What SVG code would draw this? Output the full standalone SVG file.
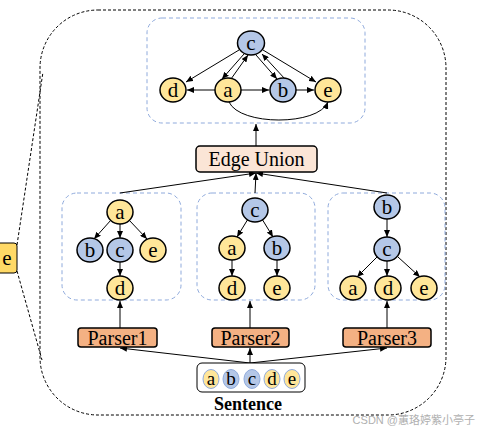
<svg xmlns="http://www.w3.org/2000/svg" width="489" height="434" viewBox="0 0 489 434">
<defs>
<marker id="ah" markerUnits="userSpaceOnUse" markerWidth="7" markerHeight="6" refX="7" refY="3" orient="auto">
<path d="M0,0 L7,3 L0,6 z" fill="#000"/>
</marker>
<style>
.y{fill:#FFE699;stroke:#000;stroke-width:1.5}
.b{fill:#B4C7E7;stroke:#000;stroke-width:1.5}
.t{font-family:'Liberation Serif','Times New Roman','DejaVu Serif',serif;font-size:21px;text-anchor:middle;fill:#000}
.e{stroke:#000;stroke-width:1;fill:none;marker-end:url(#ah)}
.grp{fill:none;stroke:#8FAADC;stroke-width:1;stroke-dasharray:4,3}
.par{fill:#F4B183;stroke:#000;stroke-width:1.5}
.pt{font-family:'Liberation Serif','Times New Roman','DejaVu Serif',serif;font-size:20px;text-anchor:middle;fill:#000}
.sy{fill:#FFE699;stroke:#8FAADC;stroke-width:1}
.sb{fill:#B4C7E7;stroke:#8FAADC;stroke-width:1}
.st{font-family:'Liberation Serif','Times New Roman','DejaVu Serif',serif;font-size:19px;text-anchor:middle;fill:#000}
</style>
</defs>
<rect width="489" height="434" fill="#fff"/>

<!-- outer dashed region -->
<rect x="40" y="10" width="406" height="405" rx="58" fill="none" stroke="#000" stroke-width="1" stroke-dasharray="3,2"/>
<path d="M17,245 L43,72 M17,271 L42,360" fill="none" stroke="#000" stroke-width="1" stroke-dasharray="3,2"/>
<g id="left-e">
<rect x="-6" y="243" width="23" height="30" rx="3" fill="#FFD966" stroke="#000" stroke-width="1"/>
<text class="t" x="7" y="265">e</text>
</g>

<!-- group boxes -->
<rect class="grp" x="147" y="18" width="218" height="105" rx="15"/>
<rect class="grp" x="62" y="193" width="119" height="107" rx="15"/>
<rect class="grp" x="197" y="193" width="118" height="107" rx="15"/>
<rect class="grp" x="328" y="193" width="117" height="107" rx="15"/>

<g id="connectors">
<line class="e" x1="239" y1="50" x2="186" y2="82"/>
<line class="e" x1="263" y1="50" x2="316" y2="82"/>
<line class="e" x1="215" y1="90" x2="187" y2="90"/>
<line class="e" x1="241" y1="90" x2="269" y2="90"/>
<line class="e" x1="296" y1="90" x2="314" y2="90"/>
<line class="e" x1="244" y1="54" x2="222" y2="79"/>
<line class="e" x1="231" y1="79" x2="248" y2="55"/>
<line class="e" x1="256" y1="55" x2="277" y2="79"/>
<line class="e" x1="285" y1="79" x2="262" y2="54"/>
<path class="e" d="M229,102 C240,126 318,126 328,102"/>
<line class="e" x1="256" y1="146" x2="256" y2="124"/>
<line class="e" x1="120" y1="193" x2="256" y2="173"/>
<line class="e" x1="255" y1="193" x2="256" y2="173"/>
<line class="e" x1="387" y1="193" x2="256" y2="173"/>
<line class="e" x1="111" y1="220" x2="94" y2="239"/>
<line class="e" x1="120" y1="224" x2="120" y2="238"/>
<line class="e" x1="129" y1="220" x2="147" y2="239"/>
<line class="e" x1="120" y1="262" x2="120" y2="276"/>
<line class="e" x1="248" y1="219" x2="237" y2="237"/>
<line class="e" x1="262" y1="219" x2="273" y2="237"/>
<line class="e" x1="232" y1="260" x2="232" y2="276"/>
<line class="e" x1="277" y1="260" x2="277" y2="276"/>
<line class="e" x1="387" y1="219" x2="387" y2="237"/>
<line class="e" x1="377" y1="257" x2="357" y2="277"/>
<line class="e" x1="387" y1="261" x2="387" y2="276"/>
<line class="e" x1="398" y1="257" x2="420" y2="277"/>
<line class="e" x1="120" y1="328" x2="120" y2="301"/>
<line class="e" x1="250" y1="328" x2="250" y2="301"/>
<line class="e" x1="387" y1="328" x2="387" y2="301"/>
<line class="e" x1="250" y1="363" x2="120" y2="348"/>
<line class="e" x1="250" y1="363" x2="250" y2="348"/>
<line class="e" x1="250" y1="363" x2="387" y2="348"/>
</g>

<g id="top-c"><ellipse class="b" cx="251" cy="43" rx="13.5" ry="12"/><text class="t" x="251" y="50">c</text></g>
<g id="top-d"><ellipse class="y" cx="173" cy="90" rx="13" ry="12"/><text class="t" x="173" y="97">d</text></g>
<g id="top-a"><ellipse class="y" cx="228" cy="90" rx="13" ry="12"/><text class="t" x="228" y="97">a</text></g>
<g id="top-b"><ellipse class="b" cx="283" cy="90" rx="13" ry="12"/><text class="t" x="283" y="97">b</text></g>
<g id="top-e"><ellipse class="y" cx="328" cy="90" rx="13" ry="12"/><text class="t" x="328" y="97">e</text></g>

<g id="edge-union">
<rect x="196" y="146" width="121" height="26" rx="4" fill="#FBE5D6" stroke="#000" stroke-width="1.5"/>
<text class="pt" x="256.5" y="166">Edge Union</text>
</g>

<g id="b1-a"><ellipse class="y" cx="120" cy="212" rx="13" ry="12"/><text class="t" x="120" y="219">a</text></g>
<g id="b1-b"><ellipse class="b" cx="90" cy="250" rx="13" ry="12"/><text class="t" x="90" y="257">b</text></g>
<g id="b1-c"><ellipse class="b" cx="120" cy="250" rx="13" ry="12"/><text class="t" x="120" y="257">c</text></g>
<g id="b1-e"><ellipse class="y" cx="153" cy="250" rx="13" ry="12"/><text class="t" x="153" y="257">e</text></g>
<g id="b1-d"><ellipse class="y" cx="120" cy="288" rx="13" ry="12"/><text class="t" x="120" y="295">d</text></g>

<g id="b2-c"><ellipse class="b" cx="255" cy="210" rx="13" ry="12"/><text class="t" x="255" y="217">c</text></g>
<g id="b2-a"><ellipse class="y" cx="232" cy="248" rx="13" ry="12"/><text class="t" x="232" y="255">a</text></g>
<g id="b2-b"><ellipse class="b" cx="277" cy="248" rx="13" ry="12"/><text class="t" x="277" y="255">b</text></g>
<g id="b2-d"><ellipse class="y" cx="232" cy="288" rx="13" ry="12"/><text class="t" x="232" y="295">d</text></g>
<g id="b2-e"><ellipse class="y" cx="277" cy="288" rx="13" ry="12"/><text class="t" x="277" y="295">e</text></g>

<g id="b3-b"><ellipse class="b" cx="387" cy="207" rx="13" ry="12"/><text class="t" x="387" y="214">b</text></g>
<g id="b3-c"><ellipse class="b" cx="387" cy="249" rx="13" ry="12"/><text class="t" x="387" y="256">c</text></g>
<g id="b3-a"><ellipse class="y" cx="353" cy="288" rx="13" ry="12"/><text class="t" x="353" y="295">a</text></g>
<g id="b3-d"><ellipse class="y" cx="388" cy="288" rx="13" ry="12"/><text class="t" x="388" y="295">d</text></g>
<g id="b3-e"><ellipse class="y" cx="424" cy="288" rx="13" ry="12"/><text class="t" x="424" y="295">e</text></g>

<g id="parser1"><rect class="par" x="78" y="328" width="79" height="19" rx="3"/><text class="pt" x="117.5" y="345">Parser1</text></g>
<g id="parser2"><rect class="par" x="212" y="328" width="77" height="19" rx="3"/><text class="pt" x="250.5" y="345">Parser2</text></g>
<g id="parser3"><rect class="par" x="343" y="328" width="88" height="19" rx="3"/><text class="pt" x="387" y="345">Parser3</text></g>

<g id="sentence">
<rect x="197" y="363" width="108" height="29" rx="5" fill="#fff" stroke="#000" stroke-width="1"/>
<ellipse class="sy" cx="211" cy="379" rx="8" ry="9.5"/><text class="st" x="211" y="385">a</text>
<ellipse class="sb" cx="231" cy="379" rx="8" ry="9.5"/><text class="st" x="231" y="385">b</text>
<ellipse class="sb" cx="252" cy="379" rx="8" ry="9.5"/><text class="st" x="252" y="385">c</text>
<ellipse class="sy" cx="272" cy="379" rx="8" ry="9.5"/><text class="st" x="272" y="385">d</text>
<ellipse class="sy" cx="292" cy="379" rx="8" ry="9.5"/><text class="st" x="292" y="385">e</text>
<text x="248" y="410" font-family="'Liberation Serif','Times New Roman','DejaVu Serif',serif" font-size="18" font-weight="bold" text-anchor="middle">Sentence</text>
</g>

<text x="475" y="424" font-family="'Liberation Sans','Noto Sans CJK SC',sans-serif" font-size="11" fill="#b0b0b0" text-anchor="end">CSDN @蕙珞婷紫小亭子</text>
</svg>
